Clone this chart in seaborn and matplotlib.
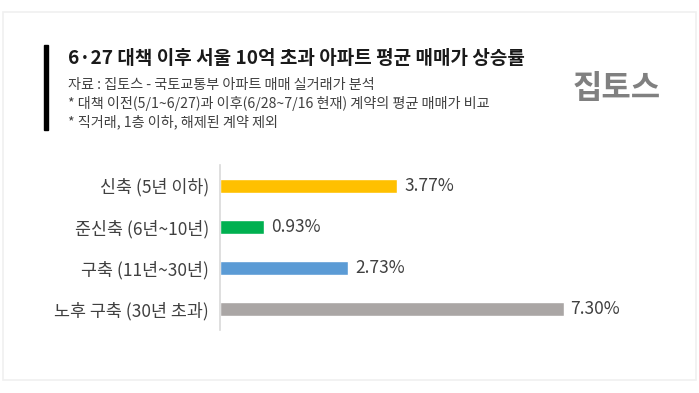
import matplotlib
matplotlib.use('Agg')
import matplotlib.pyplot as plt
import matplotlib.patches as patches
import seaborn as sns
import pandas as pd

# Data
categories = ['신축 (5년 이하)', '준신축 (6년~10년)', '구축 (11년~30년)', '노후 구축 (30년 초과)']
values = [3.77, 0.93, 2.73, 7.30]
value_labels = ['3.77%', '0.93%', '2.73%', '7.30%']
colors = ['#FFC000', '#00B050', '#5B9BD5', '#AAA6A5']

title = '6·27 대책 이후 서울 10억 초과 아파트 평균 매매가 상승률'
notes = ['자료 : 집토스 - 국토교통부 아파트 매매 실거래가 분석',
         '* 대책 이전(5/1~6/27)과 이후(6/28~7/16 현재) 계약의 평균 매매가 비교',
         '* 직거래, 1층 이하, 해제된 계약 제외']
logo = '집토스'

sns.set_style('white')
plt.rcParams['font.family'] = ['Noto Sans CJK KR', 'DejaVu Sans']

df = pd.DataFrame({'category': categories, 'value': values})

W, H = 699, 393
fig = plt.figure(figsize=(W / 100, H / 100), dpi=100)
fig.patch.set_facecolor('white')

# faint frame
fig.patches.append(patches.Rectangle((3 / W, 1 - 380 / H), 693 / W, 368 / H,
                                     transform=fig.transFigure, fill=False,
                                     edgecolor='#f0f0f0', linewidth=1.2))

# title block
fig.patches.append(patches.Rectangle((44 / W, 1 - 130 / H), 4 / W, 85 / H,
                                     transform=fig.transFigure, color='black'))
fig.text(68 / W, 1 - 58 / H, title, fontsize=13.7, fontweight='bold',
         color='#1a1a1a', va='center', ha='left')
for i, line in enumerate(notes):
    fig.text(68 / W, 1 - (85 + i * 18.5) / H, line, fontsize=10.2,
             color='#404040', va='center', ha='left')
fig.text(617 / W, 1 - 89 / H, logo, fontsize=23, fontweight='bold',
         color='#808080', va='center', ha='center')

# bar chart
ax = fig.add_axes([220 / W, 1 - 330 / H, 400 / W, 165 / H])
sns.barplot(data=df, x='value', y='category', hue='category', palette=colors,
            order=categories, width=0.34, legend=False, ax=ax, saturation=1)
ax.set_xlim(0, 8.5)
ax.set_ylim(3.5, -0.5)
ax.set_xlabel('')
ax.set_ylabel('')
ax.set_xticks([])
for s in ['top', 'right', 'bottom']:
    ax.spines[s].set_visible(False)
ax.spines['left'].set_color('#d9d9d9')
ax.spines['left'].set_linewidth(1.2)
ax.tick_params(axis='y', length=0, pad=8, labelsize=12.5, labelcolor='#404040')
ax.set_facecolor('none')

for i, (v, lab) in enumerate(zip(values, value_labels)):
    ax.text(v + 0.15, i, lab, va='center', ha='left', fontsize=12.5, color='#404040')

fig.savefig('out.png', dpi=100)
